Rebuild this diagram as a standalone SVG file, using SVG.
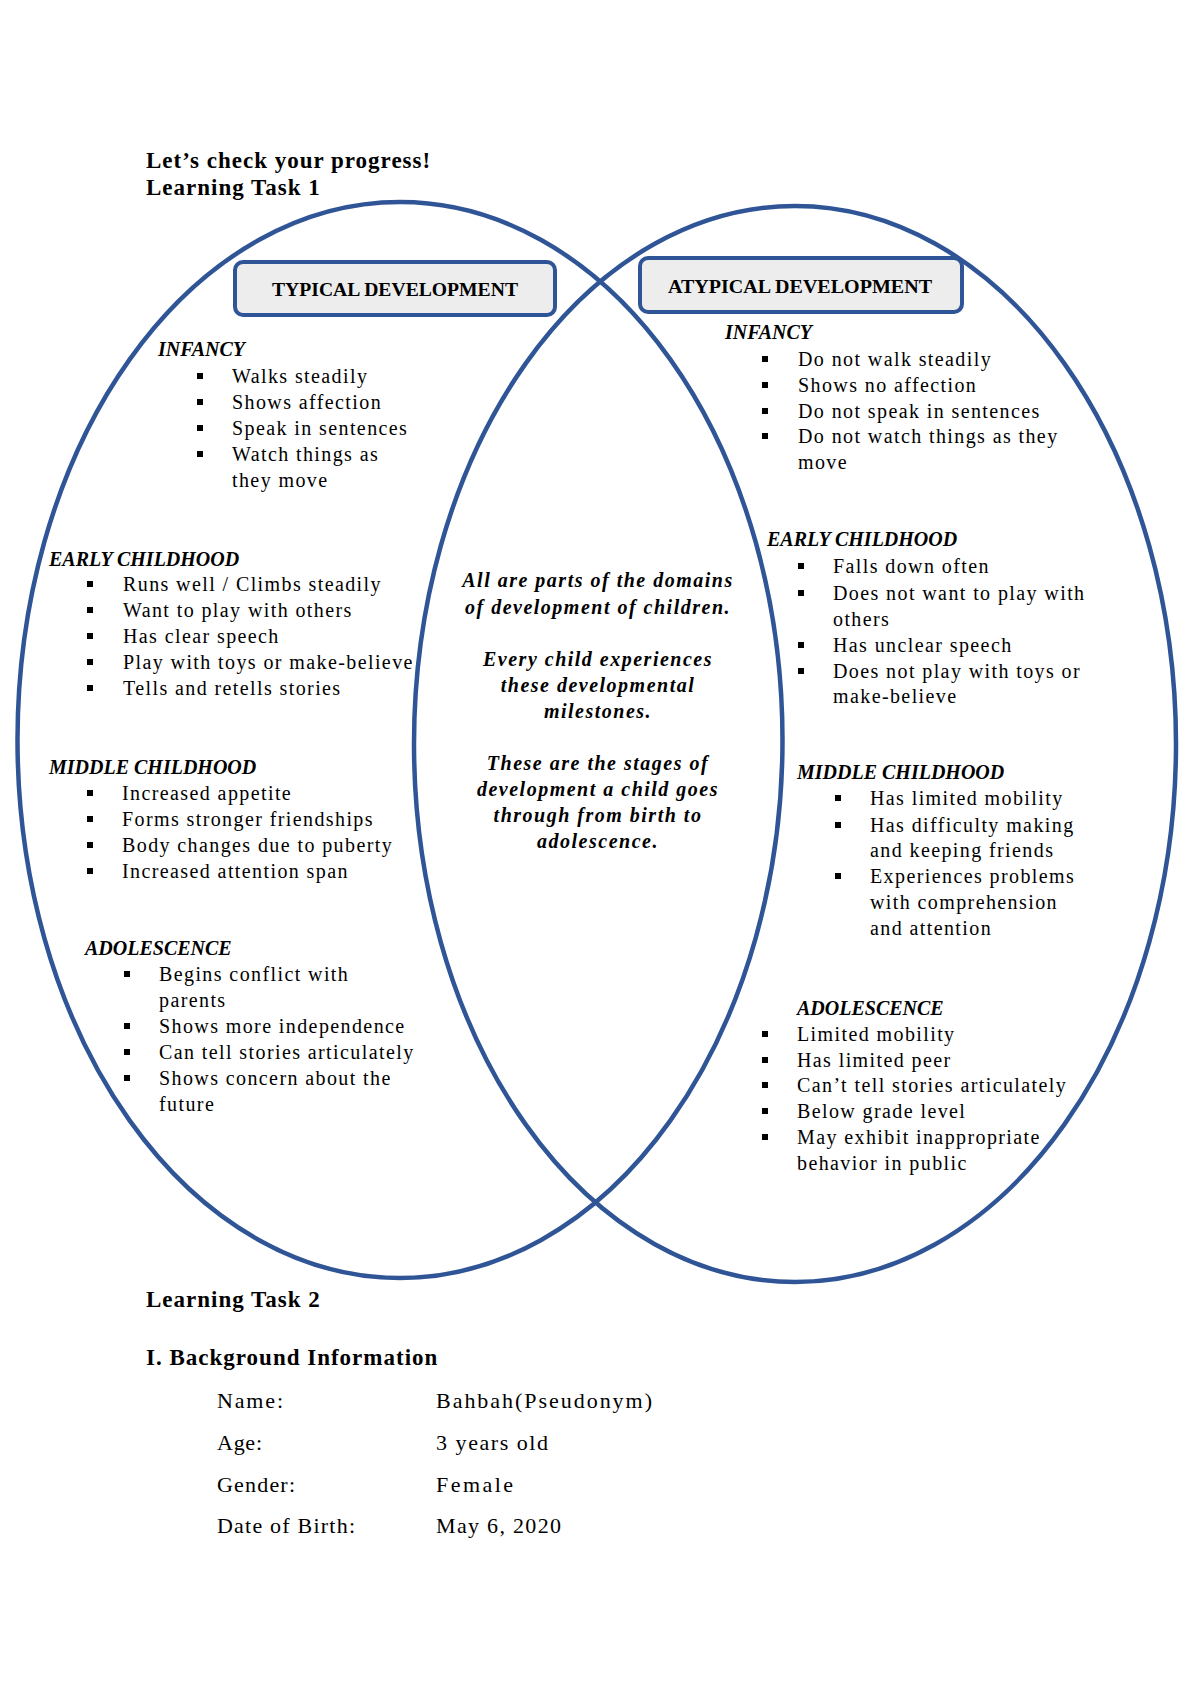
<svg xmlns="http://www.w3.org/2000/svg" xmlns:xlink="http://www.w3.org/1999/xlink" width="1200" height="1696" viewBox="0 0 1200 1696">
<style>
text{font-family:"Liberation Serif","DejaVu Serif",serif;fill:#000}
.ttl{font-size:23px;font-weight:bold;letter-spacing:1px}
.box{fill:#ededed;stroke:#2f5597;stroke-width:4}
.ring{fill:none;stroke:#2f5597;stroke-width:4.5}
.bt{font-size:19px;font-weight:bold}
.hd{font-size:20px;font-weight:bold;font-style:italic}
.tx{font-size:20px;letter-spacing:1.4px}
.ct{font-size:20px;font-weight:bold;font-style:italic;letter-spacing:1.5px;text-anchor:middle}
.info{font-size:22px}
</style>
<defs>
<rect id="bul" x="0" y="-10" width="6" height="6"/>
</defs>
<rect width="1200" height="1696" fill="#fff"/>

<g id="title">
<text class="ttl" x="146" y="168">Let’s check your progress!</text>
<text class="ttl" x="146" y="195">Learning Task 1</text>
</g>

<g id="typical-ellipse"><ellipse class="ring" cx="400" cy="740" rx="382.5" ry="538"/></g>
<g id="atypical-ellipse"><ellipse class="ring" cx="795" cy="744" rx="381" ry="538"/></g>

<g id="typical-header">
<rect class="box" x="235" y="262" width="320" height="53" rx="8"/>
<text class="bt" x="395" y="296" text-anchor="middle" textLength="246" lengthAdjust="spacingAndGlyphs">TYPICAL DEVELOPMENT</text>
</g>
<g id="atypical-header">
<rect class="box" x="640" y="258" width="322" height="54" rx="8"/>
<text class="bt" x="800" y="293" text-anchor="middle" textLength="264" lengthAdjust="spacingAndGlyphs">ATYPICAL DEVELOPMENT</text>
</g>

<g id="typical-infancy">
<text class="hd" x="158" y="356">INFANCY</text>
<use href="#bul" x="197" y="383"/><text class="tx" x="232" y="383">Walks steadily</text>
<use href="#bul" x="197" y="409"/><text class="tx" x="232" y="409">Shows affection</text>
<use href="#bul" x="197" y="435"/><text class="tx" x="232" y="435">Speak in sentences</text>
<use href="#bul" x="197" y="461"/><text class="tx" x="232" y="461">Watch things as</text>
<text class="tx" x="232" y="487">they move</text>
</g>

<g id="typical-early-childhood">
<text class="hd" x="49" y="566">EARLY CHILDHOOD</text>
<use href="#bul" x="87" y="591"/><text class="tx" x="123" y="591">Runs well / Climbs steadily</text>
<use href="#bul" x="87" y="617"/><text class="tx" x="123" y="617">Want to play with others</text>
<use href="#bul" x="87" y="643"/><text class="tx" x="123" y="643">Has clear speech</text>
<use href="#bul" x="87" y="669"/><text class="tx" x="123" y="669">Play with toys or make-believe</text>
<use href="#bul" x="87" y="695"/><text class="tx" x="123" y="695">Tells and retells stories</text>
</g>

<g id="typical-middle-childhood">
<text class="hd" x="49" y="774">MIDDLE CHILDHOOD</text>
<use href="#bul" x="87" y="800"/><text class="tx" x="122" y="800">Increased appetite</text>
<use href="#bul" x="87" y="826"/><text class="tx" x="122" y="826">Forms stronger friendships</text>
<use href="#bul" x="87" y="852"/><text class="tx" x="122" y="852">Body changes due to puberty</text>
<use href="#bul" x="87" y="878"/><text class="tx" x="122" y="878">Increased attention span</text>
</g>

<g id="typical-adolescence">
<text class="hd" x="85" y="955">ADOLESCENCE</text>
<use href="#bul" x="124" y="981"/><text class="tx" x="159" y="981">Begins conflict with</text>
<text class="tx" x="159" y="1007">parents</text>
<use href="#bul" x="124" y="1033"/><text class="tx" x="159" y="1033">Shows more independence</text>
<use href="#bul" x="124" y="1059"/><text class="tx" x="159" y="1059">Can tell stories articulately</text>
<use href="#bul" x="124" y="1085"/><text class="tx" x="159" y="1085">Shows concern about the</text>
<text class="tx" x="159" y="1111">future</text>
</g>

<g id="common">
<text class="ct" x="598" y="587">All are parts of the domains</text>
<text class="ct" x="598" y="614">of development of children.</text>
<text class="ct" x="598" y="666">Every child experiences</text>
<text class="ct" x="598" y="692">these developmental</text>
<text class="ct" x="598" y="718">milestones.</text>
<text class="ct" x="598" y="770">These are the stages of</text>
<text class="ct" x="598" y="796">development a child goes</text>
<text class="ct" x="598" y="822">through from birth to</text>
<text class="ct" x="598" y="848">adolescence.</text>
</g>

<g id="atypical-infancy">
<text class="hd" x="725" y="339">INFANCY</text>
<use href="#bul" x="762" y="366"/><text class="tx" x="798" y="366">Do not walk steadily</text>
<use href="#bul" x="762" y="392"/><text class="tx" x="798" y="392">Shows no affection</text>
<use href="#bul" x="762" y="418"/><text class="tx" x="798" y="418">Do not speak in sentences</text>
<use href="#bul" x="762" y="443"/><text class="tx" x="798" y="443">Do not watch things as they</text>
<text class="tx" x="798" y="469">move</text>
</g>

<g id="atypical-early-childhood">
<text class="hd" x="767" y="546">EARLY CHILDHOOD</text>
<use href="#bul" x="798" y="573"/><text class="tx" x="833" y="573">Falls down often</text>
<use href="#bul" x="798" y="600"/><text class="tx" x="833" y="600">Does not want to play with</text>
<text class="tx" x="833" y="626">others</text>
<use href="#bul" x="798" y="652"/><text class="tx" x="833" y="652">Has unclear speech</text>
<use href="#bul" x="798" y="678"/><text class="tx" x="833" y="678">Does not play with toys or</text>
<text class="tx" x="833" y="703">make-believe</text>
</g>

<g id="atypical-middle-childhood">
<text class="hd" x="797" y="779">MIDDLE CHILDHOOD</text>
<use href="#bul" x="835" y="805"/><text class="tx" x="870" y="805">Has limited mobility</text>
<use href="#bul" x="835" y="832"/><text class="tx" x="870" y="832">Has difficulty making</text>
<text class="tx" x="870" y="857">and keeping friends</text>
<use href="#bul" x="835" y="883"/><text class="tx" x="870" y="883">Experiences problems</text>
<text class="tx" x="870" y="909">with comprehension</text>
<text class="tx" x="870" y="935">and attention</text>
</g>

<g id="atypical-adolescence">
<text class="hd" x="797" y="1015">ADOLESCENCE</text>
<use href="#bul" x="762" y="1041"/><text class="tx" x="797" y="1041">Limited mobility</text>
<use href="#bul" x="762" y="1067"/><text class="tx" x="797" y="1067">Has limited peer</text>
<use href="#bul" x="762" y="1092"/><text class="tx" x="797" y="1092">Can’t tell stories articulately</text>
<use href="#bul" x="762" y="1118"/><text class="tx" x="797" y="1118">Below grade level</text>
<use href="#bul" x="762" y="1144"/><text class="tx" x="797" y="1144">May exhibit inappropriate</text>
<text class="tx" x="797" y="1170">behavior in public</text>
</g>

<g id="task2">
<text class="ttl" x="146" y="1307">Learning Task 2</text>
<text class="ttl" x="146" y="1365">I. Background Information</text>
<text class="info" x="217" y="1408" textLength="66" lengthAdjust="spacing">Name:</text>
<text class="info" x="436" y="1408" textLength="216" lengthAdjust="spacing">Bahbah(Pseudonym)</text>
<text class="info" x="217" y="1450" textLength="45" lengthAdjust="spacing">Age:</text>
<text class="info" x="436" y="1450" textLength="112" lengthAdjust="spacing">3 years old</text>
<text class="info" x="217" y="1492" textLength="78" lengthAdjust="spacing">Gender:</text>
<text class="info" x="436" y="1492" textLength="77" lengthAdjust="spacing">Female</text>
<text class="info" x="217" y="1533" textLength="138" lengthAdjust="spacing">Date of Birth:</text>
<text class="info" x="436" y="1533" textLength="125" lengthAdjust="spacing">May 6, 2020</text>
</g>
</svg>
